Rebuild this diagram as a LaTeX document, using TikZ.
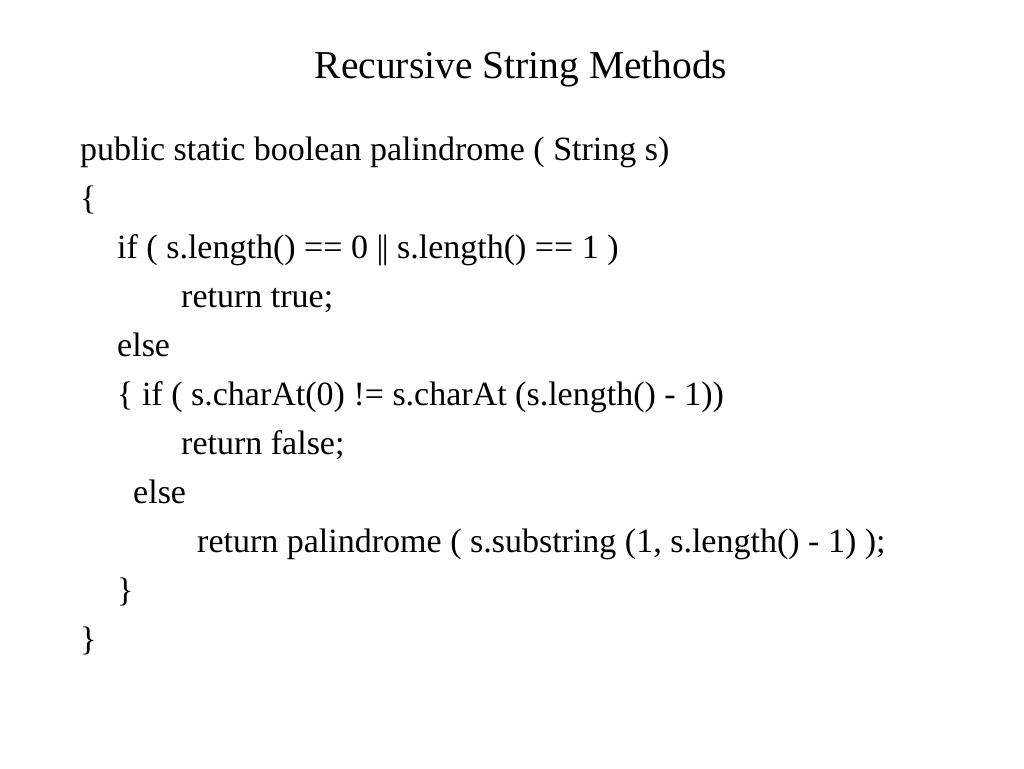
\documentclass[tikz,border=0pt]{standalone}
\usepackage{fontspec}
\setmainfont{Liberation Serif}
\usetikzlibrary{positioning}
\tikzset{
  codeline/.style={anchor=base west, inner sep=0pt, font=\fontsize{34}{40}\selectfont},
  titletext/.style={anchor=base, inner sep=0pt, font=\fontsize{39.5}{46}\selectfont}
}
\begin{document}
\begin{tikzpicture}[x=1pt,y=-1pt]
	\useasboundingbox (0,0) rectangle (1024,768);
	\node[titletext] at (521,78) (title) {Recursive String Methods};

	\node[codeline] at (80,160) (l1) {public static boolean palindrome ( String s)};
	\node[codeline] at (80,209) (l2) {\{};
	\node[codeline] at (117,258) (l3) {if ( s.length() == 0 |\kern-1.5pt| s.length() == 1 )};
	\node[codeline] at (181,307) (l4) {return true;};
	\node[codeline] at (117,356) (l5) {else};
	\node[codeline] at (117,405) (l6) {\{ if ( s.charAt(0) != s.charAt (s.length() - 1))};
	\node[codeline] at (181,454) (l7) {return false;};
	\node[codeline] at (133,503) (l8) {else};
	\node[codeline] at (197,552) (l9) {return palindrome ( s.substring (1, s.length() - 1) );};
	\node[codeline] at (117,601) (l10) {\}};
	\node[codeline] at (80,650) (l11) {\}};
\end{tikzpicture}
\end{document}
